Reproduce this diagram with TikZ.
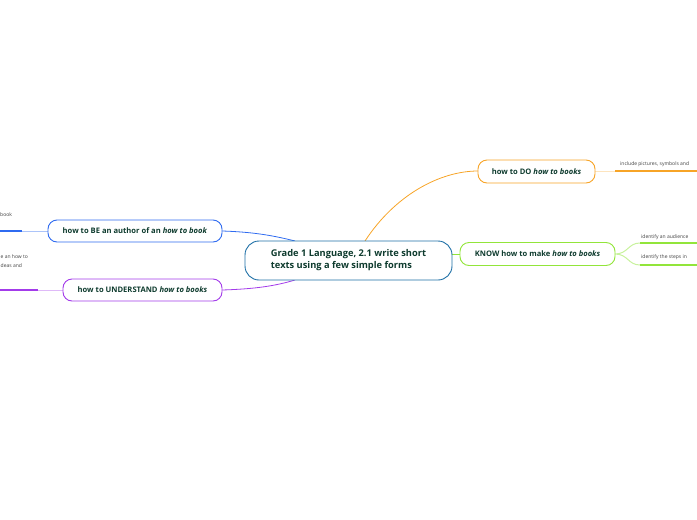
\documentclass[tikz,border=0pt]{standalone}
\usepackage{fontspec}
\setmainfont{Open Sans}
\definecolor{txt}{HTML}{0E3B2E}
\definecolor{cblue}{HTML}{2F6BF0}
\definecolor{corange}{HTML}{F7A427}
\definecolor{cgreen}{HTML}{92E53A}
\definecolor{cpurple}{HTML}{A33BEA}
\definecolor{cteal}{HTML}{1E6FA6}
\tikzset{
 topic/.style={draw=#1, line width=0.9pt, rounded corners=9pt, text=txt, font=\bfseries\fontsize{7.6}{9}\selectfont, minimum height=22pt, inner xsep=4pt, fill=white},
 small/.style={font=\fontsize{5}{6}\selectfont, text=black!75, anchor=west, inner sep=0pt},
}
\begin{document}
\begin{tikzpicture}[x=1pt,y=-1pt]
\useasboundingbox (0,0) rectangle (697,520);
\clip (0,0) rectangle (697,520);
% subtopic lines
\draw[corange!30, line width=1pt] (595,171) -- (615,171);
\draw[corange, line width=1.6pt] (615,171) -- (697,171);
\node[small] (t1) at (620,164) {include pictures, symbols and};
\draw[cgreen!50, line width=1pt] (615,254) .. controls (628,254) and (628,243) .. (640,243) (615,254) .. controls (628,254) and (628,265) .. (640,265);
\draw[cgreen, line width=1.2pt] (640,243) -- (697,243) (640,265) -- (697,265);
\node[small] (t2) at (641,237) {identify an audience};
\node[small] (t3) at (641,257) {identify the steps in};
\draw[cblue!40, line width=1pt] (22,231) -- (48,231);
\draw[cblue, line width=1.6pt] (0,231) -- (22,231);
\node[small] (t4) at (0,215) {book};
\draw[cpurple!35, line width=1pt] (38,290) -- (63,290);
\draw[cpurple, line width=1.6pt] (0,290) -- (38,290);
\node[small] (t5) at (0.5,257) {e an how to};
\node[small] (t6) at (0.5,266) {deas and};
% main connectors
\coordinate (c1) at (365,241);
\coordinate (c2) at (295,241);
\coordinate (c3) at (295,280);
\coordinate (c4) at (452,254);
\draw[corange, line width=0.8pt] (c1) .. controls (395,195) and (440,171) .. (478,171);
\draw[cgreen, line width=0.8pt] (c4) -- (460,254);
\draw[cblue, line width=0.8pt] (222,231) .. controls (255,232) and (275,236) .. (c2);
\draw[cpurple, line width=0.8pt] (222,290) .. controls (255,289) and (275,286) .. (c3);
% nodes
\node[topic=cteal, align=left, font=\bfseries\fontsize{9.3}{12}\selectfont, minimum width=207pt, minimum height=39pt, rounded corners=14pt] (c) at (348.5,260.5) {Grade 1 Language, 2.1 write short\\texts using a few simple forms};
\node[topic=corange, minimum width=117pt, minimum height=23pt] (do) at (536.5,171.5) {how to DO \textit{how to books}};
\node[topic=cgreen, minimum width=155pt, minimum height=23pt] (know) at (537.5,254) {KNOW how to make \textit{how to books}};
\node[topic=cblue, minimum width=174pt, minimum height=22pt] (be) at (135,231) {how to BE an author of an \textit{how to book}};
\node[topic=cpurple, minimum width=159pt, minimum height=22pt] (und) at (142.5,290) {how to UNDERSTAND \textit{how to books}};
\end{tikzpicture}
\end{document}
